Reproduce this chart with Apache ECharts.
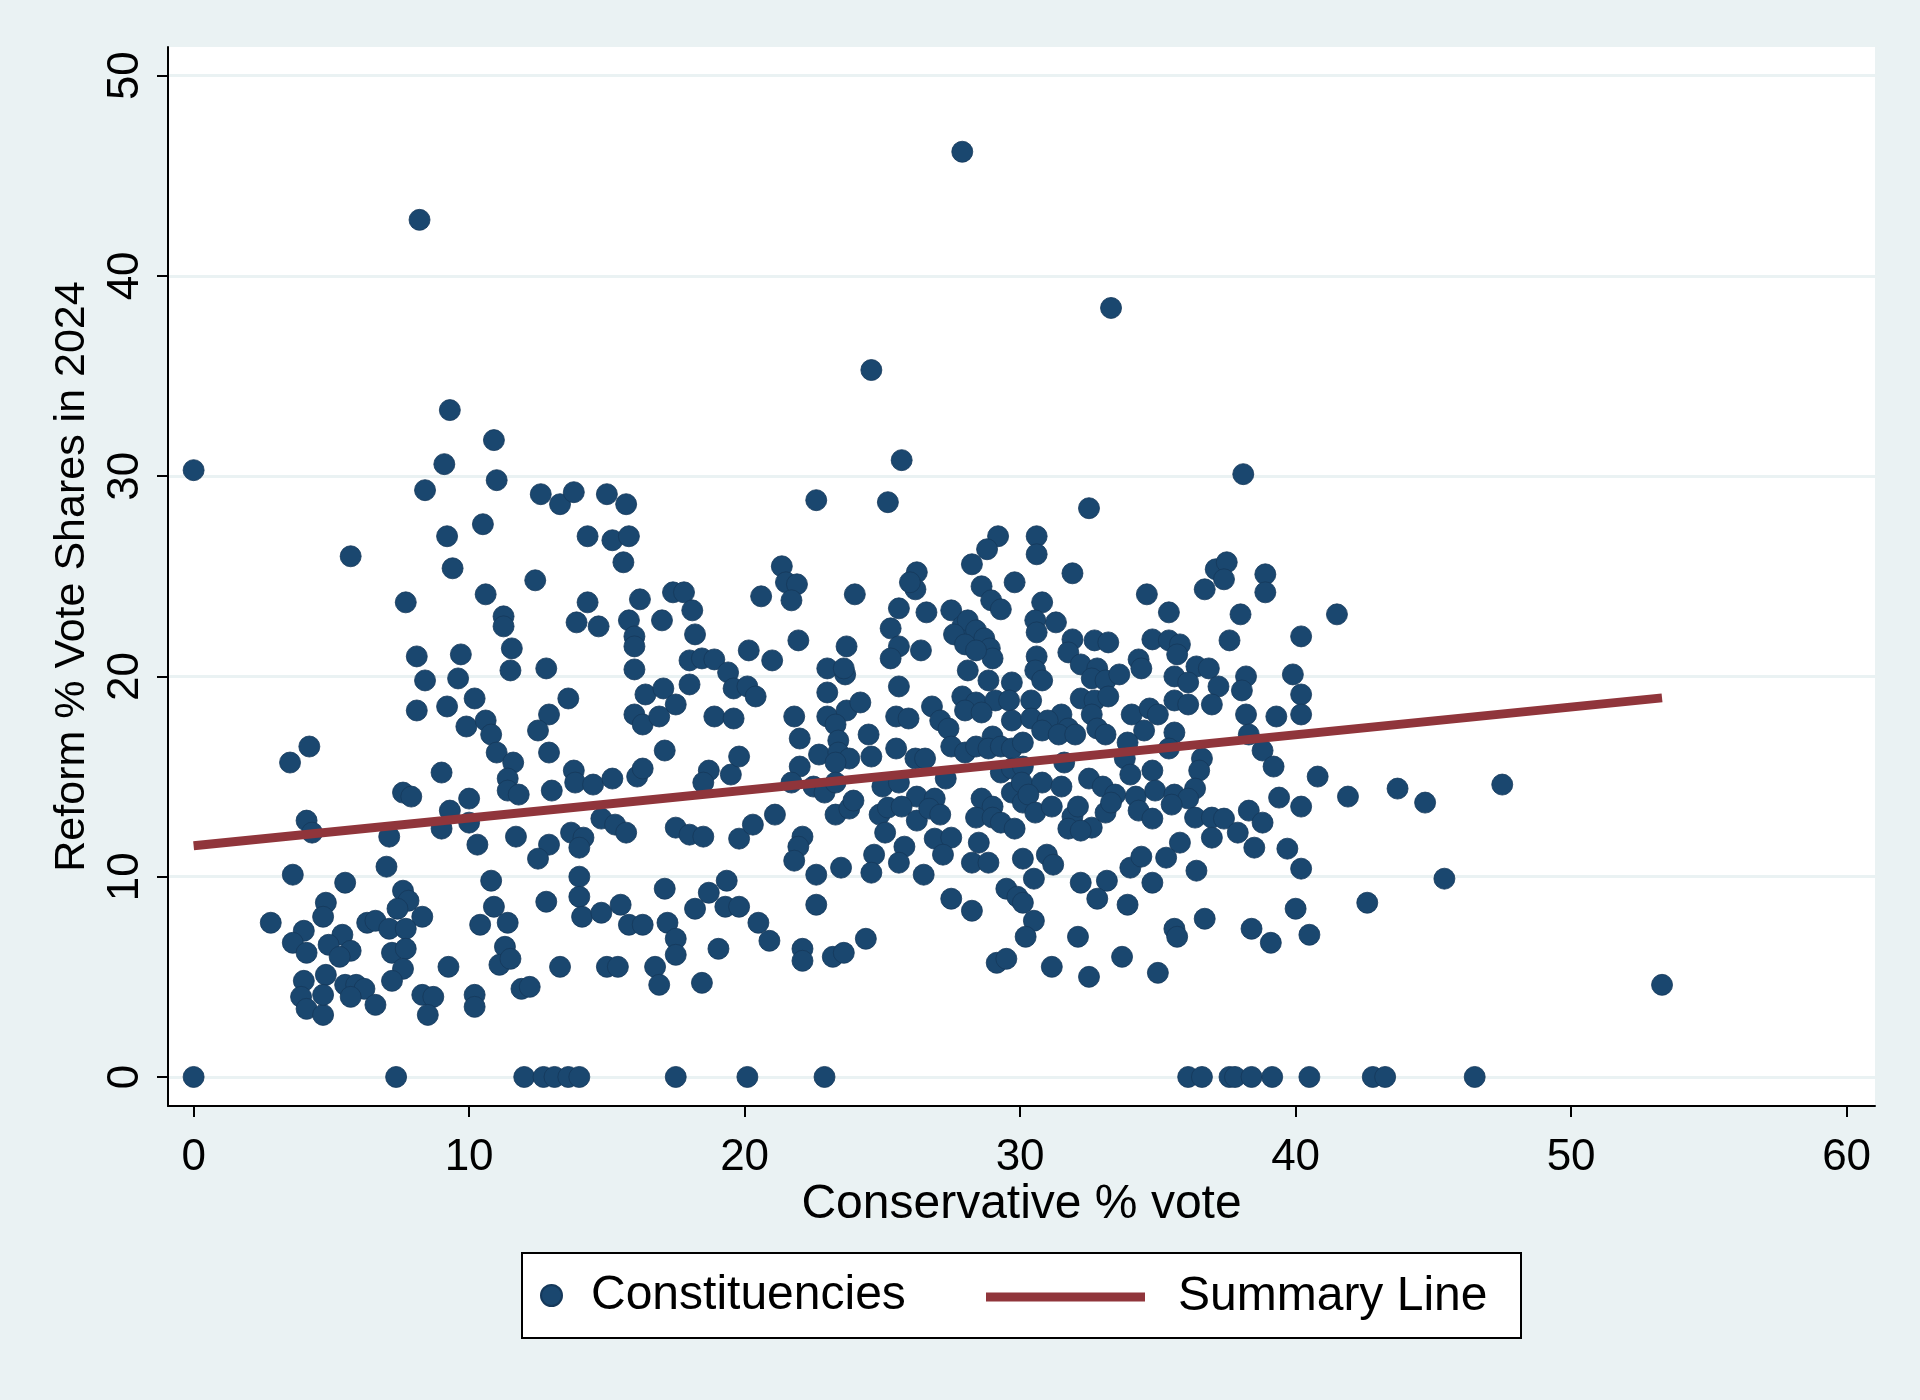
<!DOCTYPE html>
<html>
<head>
<meta charset="utf-8">
<script src="https://cdn.jsdelivr.net/npm/echarts@6/dist/echarts.min.js"></script>
<style>
html,body{margin:0;padding:0;background:#eaf2f3;}
#chart{width:1920px;height:1400px;}
</style>
</head>
<body>
<div id="chart"></div>
<script>
// Conservative % vote (x) and Reform % vote share 2024 (y), one pair per constituency
const conservativeVote = [
27.9,8.2,33.3,24.6,
9.3,9.1,8.4,9.2,9.4,0,5.7,7.7,8.1,9.7,8.4,9.6,8.1,9.2,9.9,4.2,
3.5,9.0,7.6,7.9,9.3,4.1,4.3,9.0,7.1,3.6,5.5,7.0,2.8,4.8,4.7,7.6,7.8,8.3,7.4,6.3,6.6,7.1,7.7,4.0,3.6,4.1,5.4,4.9,5.7,5.3,7.2,7.7,7.6,7.2,9.25,4.8,4.0,3.9,4.1,4.7,4.7,5.5,5.9,6.2,5.7,6.6,8.3,8.7,8.5,0,7.35,
10.9,11.0,12.6,13.3,13.8,15.0,15.7,10.5,14.3,15.2,15.8,15.6,12.4,10.6,11.25,11.25,14.3,16.2,17.4,17.8,18.1,13.9,14.7,15.8,16.0,16.0,17.0,18.2,11.55,11.5,12.8,16.0,18.0,18.45,18.9,19.4,19.6,18.0,10.2,13.6,12.9,12.5,10.6,10.8,16.4,17.05,17.5,16.0,16.3,16.9,18.9,19.6,
11.0,12.9,17.1,11.6,11.4,11.4,11.8,10.0,13.0,13.8,13.85,14.5,15.2,16.1,16.3,18.7,18.5,19.5,19.8,10.0,10.3,11.7,12.9,12.5,13.7,14.15,14.0,14.8,15.3,15.7,17.5,18.0,18.5,19.8,10.8,14.0,14.0,14.1,12.8,10.9,10.4,11.4,14.8,15.5,15.8,16.3,17.1,17.2,18.2,18.7,19.35,19.3,19.8,11.3,11.1,11.5,13.3,15.0,15.4,16.75,16.9,17.5,17.5,19.05,18.45,11.9,12.2,10.2,10.2,12.0,12.7,13.1,13.6,14.0,17.5,20.1,
25.7,22.6,25.2,29.2,28.8,28.25,29.8,21.35,21.5,21.9,21.7,20.6,24.0,26.25,26.2,26.0,28.6,28.95,29.3,25.6,26.6,27.5,25.3,27.9,28.1,28.4,28.7,27.6,28.0,28.9,29.0,28.4,21.95,20.15,21.0,23.7,25.6,25.3,26.4,23.0,23.65,23.6,28.1,28.85,29.7,20.1,20.4,23.0,25.6,27.9,28.4,29.1,29.6,21.8,23.0,23.7,24.2,23.3,25.5,25.95,26.8,27.1,27.4,28.0,28.6,29.7,22.0,24.5,29.0,
22.0,22.7,23.4,23.4,23.8,23.3,24.6,25.5,26.2,26.55,27.3,27.5,28.0,28.4,28.85,29.3,29.7,30.1,29.3,29.7,30.1,21.7,22.5,22.9,23.3,25.0,25.6,26.25,26.9,28.6,29.0,29.7,30.1,21.1,20.3,23.3,23.8,23.95,24.9,25.2,25.7,26.25,26.7,27.1,25.1,28.4,29.0,29.3,29.8,26.9,27.5,27.2,28.5,22.1,21.95,21.8,25.8,25.6,24.7,24.6,28.25,28.85,30.1,22.6,23.5,26.5,20.5,20.9,22.6,27.5,28.25,29.5,29.9,30.1,22.1,22.1,23.2,23.6,24.4,29.15,29.5,22.9,
38.1,32.5,30.6,30.6,31.9,34.6,37.1,37.5,37.4,36.7,38.9,38.9,30.8,30.55,30.6,31.3,35.4,38.0,31.9,32.7,33.2,31.75,32.2,34.8,35.4,35.8,35.7,37.6,34.3,34.4,40.2,30.6,30.55,30.8,32.8,32.6,33.1,33.6,32.2,32.7,33.2,36.4,36.85,35.6,36.1,37.2,38.2,38.05,39.9,40.2,30.4,30.4,31.5,31.0,31.75,32.6,32.8,33.1,34.05,34.7,35.0,34.5,35.6,36.1,35.6,36.96,38.2,39.3,40.2,38.3,30.8,31.4,32.0,
33.9,31.6,33.8,35.4,36.6,38.8,39.2,30.06,30.8,31.5,30.3,32.5,33.0,33.45,34.0,34.2,34.8,34.9,36.5,36.35,35.6,36.1,35.5,30.55,31.15,31.9,32.1,32.6,31.75,32.2,33.1,33.3,34.3,34.8,36.35,36.96,37.4,36.96,37.9,38.3,38.8,35.8,38.5,39.4,40.2,39.7,40.2,30.97,31.2,30.5,32.2,33.15,32.8,34.0,34.4,34.8,35.3,33.9,36.4,30.5,30.2,32.1,31.15,32.5,33.7,35.0,35.6,35.7,36.7,38.4,39.1,40.0,40.5,36.1,36.6,37.6,37.8,38.4,39.15,40.5,
40.8,41.9,43.7,44.7,47.5,45.4,42.6,42.8,43.25,46.5,41.5,53.3
];
const reformVote = [
46.2,42.8,38.4,35.3,
33.3,30.6,29.3,27.0,25.4,30.3,26.0,23.7,21.0,21.1,19.8,19.9,18.3,18.5,17.5,16.5,
15.7,15.2,14.2,14.0,13.3,12.8,12.2,12.4,12.0,10.1,9.7,10.5,7.7,8.7,8.0,9.3,8.8,8.0,8.4,7.7,7.8,7.4,7.4,7.3,6.7,6.2,7.1,6.6,6.3,6.0,6.2,6.4,5.4,4.8,5.5,5.1,4.8,4.0,3.4,3.1,4.1,4.6,4.6,4.4,4.0,3.6,4.1,4.0,3.1,0,0,
31.8,29.8,29.1,28.6,29.2,29.1,28.6,27.6,27.0,26.8,27.0,25.7,24.8,24.1,23.0,22.5,23.7,23.85,24.2,24.2,23.3,22.7,22.5,22.8,22.0,21.5,22.8,22.1,21.4,20.3,20.4,20.35,20.8,20.9,20.85,20.2,19.4,19.6,18.9,18.9,18.1,17.3,17.8,17.1,19.1,19.4,18.6,18.1,17.6,18.0,18.0,17.9,
16.2,16.2,16.3,15.7,14.9,14.3,14.1,13.9,14.3,15.3,14.7,14.6,14.9,15.0,15.4,15.3,14.7,15.1,16.0,12.7,11.6,12.0,11.6,10.9,12.2,11.95,11.45,12.9,12.6,12.2,12.45,12.1,12.0,11.9,9.8,10.0,9.0,8.0,8.75,8.5,7.6,7.7,8.2,8.6,7.6,7.6,9.4,7.7,8.4,9.2,9.8,8.5,8.5,6.5,5.6,5.9,5.5,5.5,5.5,5.5,4.6,6.9,6.1,6.4,4.7,4.4,4.5,4.1,3.5,0,0,0,0,0,0,0,
30.8,28.8,28.7,27.0,26.35,25.6,24.7,25.5,24.7,24.6,23.8,24.0,24.1,25.2,24.35,24.7,24.5,23.8,23.35,23.4,23.2,23.3,22.4,22.5,22.8,22.3,21.9,22.1,21.6,21.4,20.9,21.3,21.8,21.3,20.8,21.5,21.5,20.9,21.3,20.4,20.1,20.4,20.3,19.8,19.7,19.5,19.0,19.2,19.5,19.0,18.7,18.8,18.8,18.0,18.0,18.3,18.7,17.6,18.0,17.9,18.5,17.8,17.4,18.3,18.2,17.8,16.9,17.1,17.0,
15.5,16.1,16.8,16.2,15.9,15.7,16.0,16.4,15.9,15.9,14.9,16.5,16.2,16.5,16.4,16.5,16.4,16.7,15.2,15.4,15.5,14.7,14.5,14.2,14.7,14.5,14.7,14.0,13.9,13.9,13.5,14.2,13.7,13.1,12.6,13.1,13.4,13.8,13.1,13.45,13.5,12.8,13.4,13.1,12.2,12.95,12.95,12.7,12.4,11.9,11.95,11.1,11.7,12.0,11.5,10.8,11.5,10.7,11.1,10.2,10.7,10.7,10.9,10.1,10.45,10.1,7.7,6.8,8.6,8.9,8.3,9.4,9.0,8.7,6.4,5.8,6.0,6.2,6.9,5.7,5.9,0,
30.1,28.4,27.0,26.1,25.15,24.1,25.35,25.7,24.85,24.35,25.1,24.2,23.7,22.8,22.2,22.7,23.2,23.1,21.85,21.8,21.7,21.2,20.6,21.85,21.8,21.6,21.1,21.8,20.85,20.4,22.0,21.0,20.3,19.8,20.4,19.9,19.8,20.1,18.9,18.8,19.0,20.5,20.4,20.0,19.7,19.5,20.0,19.3,20.1,19.1,18.8,17.9,18.1,17.8,17.4,18.1,17.4,17.1,18.1,18.4,18.1,17.3,18.8,18.6,17.2,18.6,18.1,18.0,18.1,17.1,17.3,17.1,17.1,
16.7,15.7,15.9,16.4,15.9,16.3,15.5,14.7,14.7,14.5,14.1,14.9,14.5,14.1,15.1,14.0,15.3,14.3,15.3,14.4,14.1,13.9,13.6,13.2,13.5,13.0,13.5,12.45,12.4,12.3,13.2,13.7,13.3,12.9,12.95,12.95,12.9,11.95,12.2,13.3,12.7,11.7,11.45,13.95,13.5,11.4,10.4,11.1,10.6,9.9,9.7,9.8,8.9,10.45,11.0,9.7,10.95,8.6,10.3,7.8,7.0,7.0,5.5,5.0,6.0,5.2,7.4,7.0,7.9,7.4,6.7,8.4,7.1,0,0,0,0,0,0,0,
15.0,14.0,14.4,13.7,14.6,9.9,8.7,0,0,0,23.1,4.6
];
// Fitted summary line end points
const summaryX = [0, 53.3];
const summaryY = [11.55, 18.93];
// Axis tick labels
const xTicks = [0, 10, 20, 30, 40, 50, 60];
const yTicks = [0, 10, 20, 30, 40, 50];

const FONT = '"Liberation Sans", Arial, Helvetica, sans-serif';
const navy = '#1a476f';
const maroon = '#90353b';

const points = conservativeVote.map((x, i) => [x, reformVote[i]]);
const linePts = summaryX.map((x, i) => [x, summaryY[i]]);

const chart = echarts.init(document.getElementById('chart'), null, {renderer: 'canvas'});
chart.setOption({
  backgroundColor: '#eaf2f3',
  animation: false,
  textStyle: {fontFamily: FONT},
  grid: {left: 168, right: 45, top: 47, bottom: 294, show: true, backgroundColor: '#ffffff', borderWidth: 0},
  xAxis: {
    type: 'value', min: -0.93, max: 61.03,
    axisLine: {show: true, onZero: false, lineStyle: {color: '#000', width: 2}},
    axisTick: {show: true, length: 11, lineStyle: {color: '#000', width: 2}, customValues: xTicks},
    axisLabel: {customValues: xTicks, fontSize: 44, color: '#000', margin: 30, fontFamily: FONT},
    splitLine: {show: false},
    name: 'Conservative % vote', nameLocation: 'middle', nameGap: 75, nameMoveOverlap: false,
    nameTextStyle: {fontSize: 48, color: '#000', fontFamily: FONT}
  },
  yAxis: {
    type: 'value', min: -1.45, max: 51.43,
    axisLine: {show: true, onZero: false, lineStyle: {color: '#000', width: 2}},
    axisTick: {show: true, length: 11, lineStyle: {color: '#000', width: 2}, customValues: yTicks},
    axisLabel: {customValues: yTicks, fontSize: 44, color: '#000', margin: 20, rotate: 90, fontFamily: FONT},
    splitLine: {show: true, lineStyle: {color: '#eaf2f3', width: 3}},
    name: 'Reform % Vote Shares in 2024', nameLocation: 'middle', nameGap: 74, nameMoveOverlap: false,
    nameTextStyle: {fontSize: 43, color: '#000', fontFamily: FONT}
  },
  legend: [
    {
      data: [{name: 'Constituencies', icon: 'circle'}],
      left: 540, top: 1271.5, padding: 0, itemWidth: 21, itemHeight: 21, z: 10,
      textStyle: {fontSize: 48, color: '#000', fontFamily: FONT, padding: [0, 0, 0, 24]}
    },
    {
      data: [{name: 'Summary Line', icon: 'rect'}],
      left: 986, top: 1273, padding: 0, itemWidth: 159, itemHeight: 9, z: 10,
      textStyle: {fontSize: 48, color: '#000', fontFamily: FONT, padding: [0, 0, 0, 28]}
    }
  ],
  graphic: [{
    type: 'rect', z: 1, silent: true,
    shape: {x: 522, y: 1253, width: 999, height: 85},
    style: {fill: '#ffffff', stroke: '#000000', lineWidth: 2}
  }],
  series: [
    {
      name: 'Constituencies', type: 'scatter', data: points, symbol: 'circle', symbolSize: 21,
      itemStyle: {color: navy, opacity: 1, borderColor: '#15385a', borderWidth: 0.8}, z: 2
    },
    {
      name: 'Summary Line', type: 'line', data: linePts, symbol: 'none', showSymbol: false,
      color: maroon, itemStyle: {color: maroon},
      lineStyle: {color: maroon, width: 9, cap: 'butt'}, z: 3
    }
  ]
});
</script>
</body>
</html>
